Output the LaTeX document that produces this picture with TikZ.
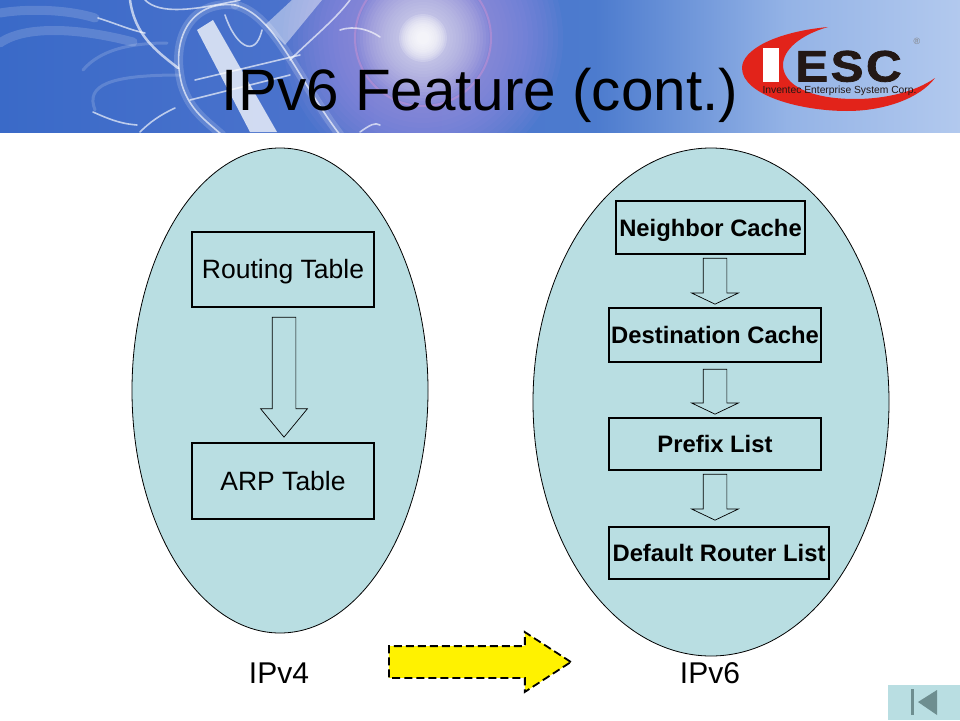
\documentclass[tikz,border=0pt]{standalone}
\usepackage{fontspec}
\setmainfont{Liberation Sans}
\newfontfamily\logofont[FakeBold=1.6,LetterSpace=5]{Liberation Sans Bold}
\usetikzlibrary{
  shapes.arrows,
  calc
}
\definecolor{cell}{HTML}{B9DEE2}
\definecolor{navmark}{HTML}{6E8E90}
\definecolor{logored}{HTML}{E2231A}
\definecolor{logotext}{HTML}{231815}
\definecolor{glow}{HTML}{A794E4}
\definecolor{banner0}{HTML}{3A6AC8}
\definecolor{banner1}{HTML}{4A72CC}
\definecolor{banner2}{HTML}{4C7BCE}
\definecolor{banner3}{HTML}{94B3E6}
\definecolor{banner4}{HTML}{B2C9EE}
\pgfdeclarehorizontalshading{bannersky}{100bp}{
  color(0bp)=(banner0); color(25bp)=(banner0); color(40bp)=(banner1);
  color(56bp)=(banner2); color(66bp)=(banner3); color(75bp)=(banner4);
  color(100bp)=(banner4)
}
\tikzset{
  x=1pt, y=-1pt,
  zone/.style={fill=cell,draw=black,line width=.8pt},
  tablebox/.style={draw,line width=1.6pt,inner sep=0pt,text height=18.8pt,text depth=0pt,
    font=\fontsize{26.5}{28}\selectfont},
  cachebox/.style={draw,line width=1.6pt,inner sep=0pt,text height=17pt,text depth=0pt,
    font=\fontsize{23.8}{26}\selectfont\bfseries},
  caption/.style={inner sep=0pt,font=\fontsize{30}{32}\selectfont},
  flow/.style={single arrow,draw,line width=.7pt,inner sep=11.5pt,shape border rotate=270,
    single arrow head indent=0pt,single arrow head extend=11.5pt,anchor=tail},
  swirl/.style={white,line width=1.6pt,opacity=.65,line cap=round},
  band/.style={white,line width=9pt,opacity=.16,line cap=round},
}

\begin{document}
\begin{tikzpicture}
\useasboundingbox (0,0) rectangle (960,720);
% banner
\begin{scope}
  \clip (0,0) rectangle (960,132);
  \shade[shading=bannersky] (0,0) rectangle (960,132);
  \foreach \r in {140,135,...,60}
    \fill[glow,opacity=.07] (423,38) circle (\r);
  \foreach \r in {66,63,...,6}
    \fill[white,opacity=.05] (423,38) circle (\r);
  \foreach \r in {24,22,...,6}
    \fill[white,opacity=.16] (423,38) circle (\r);
  \draw[magenta!40!white,line width=2pt,opacity=.3] (423,38) circle (68);
  \draw[band] (0,13) .. controls (30,8) and (70,10) .. (95,18);
  \draw[band] (0,43) .. controls (25,25) and (80,28) .. (133,42);
  \draw[band,line width=3pt] (83,70) .. controls (100,50) and (130,43) .. (167,43);
  \draw[band,line width=3pt] (95,110) .. controls (85,85) and (110,75) .. (180,75);
  \fill[white,opacity=.75] (197,30) -- (213,20) -- (277,132) -- (250,132) -- cycle;
  \fill[white,opacity=.45] (265,25) -- (292,0) -- (322,0) -- (285,45) -- cycle;
  \draw[band] (235,5) .. controls (190,0) and (170,40) .. (182,85)
    .. controls (190,110) and (205,120) .. (222,135);
  \draw[band] (235,5) .. controls (275,15) and (295,75) .. (340,135);
  \draw[swirl,line width=2.5pt] (130,0) .. controls (135,35) and (155,50) .. (178,68);
  \draw[swirl] (235,5) .. controls (190,0) and (170,40) .. (182,85)
    .. controls (190,110) and (205,120) .. (222,135);
  \draw[swirl] (235,5) .. controls (275,15) and (295,75) .. (340,135);
  \draw[swirl] (145,0) .. controls (160,15) and (195,10) .. (240,0);
  \draw[swirl] (98,18) .. controls (120,25) and (130,30) .. (145,33);
  \draw[swirl] (290,60) .. controls (310,40) and (335,20) .. (350,0);
  \draw[swirl] (340,30) .. controls (355,25) and (370,30) .. (380,37);
  \draw[swirl] (93,112) .. controls (115,122) and (125,124) .. (137,125);
  \draw[swirl] (140,132) .. controls (150,122) and (160,115) .. (175,108);
  \draw[swirl] (195,80) -- (300,55);
  \draw[swirl] (190,100) -- (290,75);
  \draw[swirl] (225,15) .. controls (235,45) and (255,60) .. (262,30);
  \draw[swirl] (360,132) .. controls (370,125) and (375,122) .. (380,125);
\end{scope}
% logo
\fill[logored] (828,27) .. controls (775,32) and (742,50) .. (742,68)
  .. controls (742,95) and (800,111) .. (847,111)
  .. controls (885,111) and (920,98) .. (935,78)
  .. controls (915,92) and (885,99) .. (855,99)
  .. controls (810,99) and (783,85) .. (783,65)
  .. controls (783,50) and (800,35) .. (828,27);
\fill[white] (763,48) rectangle (779,82);
\node[logotext,inner sep=0pt,xscale=1.12,text height=33pt,text depth=0pt,font=\fontsize{44}{44}\selectfont\logofont] (esc) at (848.5,65) {ESC};
\node[logotext,inner sep=0pt,font=\fontsize{10.3}{11}\selectfont] (corp) at (839.5,91) {Inventec Enterprise System Corp.};
\node[gray,inner sep=0pt,font=\fontsize{9}{10}\selectfont] (mark) at (917,41) {\textregistered};
\node[inner sep=0pt,anchor=base,font=\fontsize{58.4}{60}\selectfont] (title) at (480,110) {IPv6 Feature (cont.)};
% the two zones
\draw[zone] (280,390.5) ellipse (148 and 242.5);
\draw[zone] (711,402) ellipse (178 and 254);
\node[tablebox,minimum width=182pt,minimum height=75pt] (routing) at (283,269.5) {Routing Table};
\node[tablebox,minimum width=182pt,minimum height=76pt] (arp) at (283,481) {ARP Table};
\foreach \nm/\cx/\cy/\boxw/\boxh/\lbl in {
  neighbor/710.5/227.5/189/53/Neighbor Cache,
  destination/715/335/212/54/Destination Cache,
  prefix/715/444/212/52/Prefix List,
  router/719/553/220/52/Default Router List}
{
  \node[cachebox,minimum width=\boxw pt,minimum height=\boxh pt] (\nm) at (\cx,\cy) {\lbl};
}
% flow arrows
\node[flow,minimum height=120pt,single arrow tip angle=79] (arrowv4) at ($(routing.south)+(1,9)$) {};
\foreach \srcbox/\gap/\len in {neighbor/3/46,destination/6/45,prefix/3/46}
{
  \node[flow,minimum height=\len pt,single arrow tip angle=129] (arrow\srcbox)
    at ($(\srcbox.south -| destination.north)+(0,\gap)$) {};
}
% bottom row
\node[caption] (v4) at (279,673) {IPv4};
\node[caption] (v6) at (710,673) {IPv6};
\node[single arrow,draw,fill=yellow,line width=1.8pt,dash pattern=on 8pt off 4pt,inner sep=15pt,
  minimum height=182pt,single arrow head extend=14pt,anchor=tail,
  single arrow head indent=0pt,single arrow tip angle=66] (upgrade) at (388,662) {};
% nav button
\fill[cell] (888,685) rectangle (960,720);
\fill[navmark] (911,689) rectangle (914,715);
\fill[navmark] (918,702) -- (937,690) -- (937,715) -- cycle;
\end{tikzpicture}
\end{document}
